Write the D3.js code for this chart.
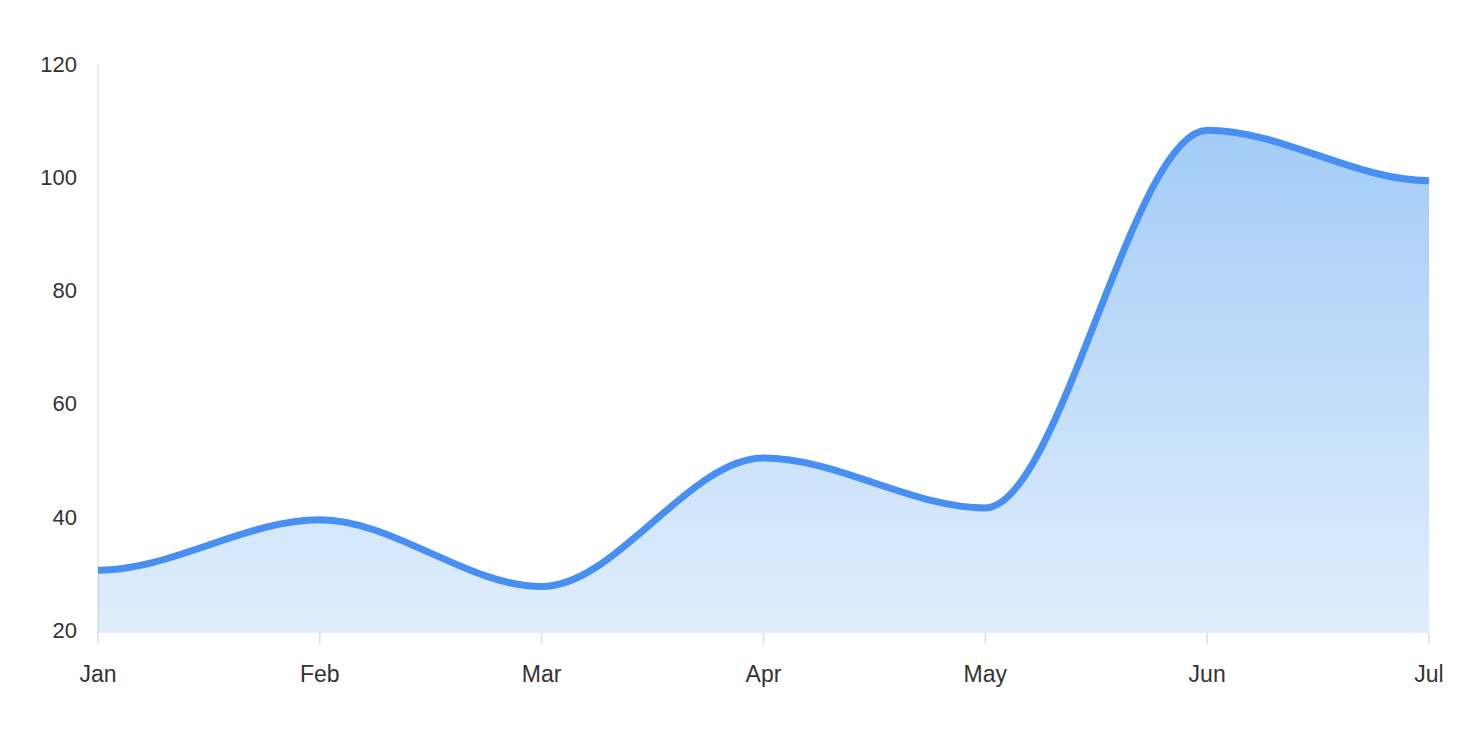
<!DOCTYPE html>
<html>
<head>
<meta charset="utf-8">
<title>Area</title>
<script src="https://d3js.org/d3.v7.min.js"></script>
<style>
  html, body { margin: 0; padding: 0; background: #fff; }
  svg { display: block; }
  text { font-family: "Liberation Sans", Arial, Helvetica, sans-serif; fill: #333; }
</style>
</head>
<body>
<svg id="chart" width="1462" height="742"></svg>
<script>
  var months = ['Jan', 'Feb', 'Mar', 'Apr', 'May', 'Jun', 'Jul'];
  var values = [30.6, 39.5, 27.7, 50.4, 41.6, 108.3, 99.4];
  var yTicks = [20, 40, 60, 80, 100, 120];

  var data = months.map(function(m, i) { return {month: m, value: values[i]}; });

  var svg = d3.select('#chart'),
      plotLeft = 98, plotRight = 1429, plotTop = 64, plotBottom = 633;

  var x = d3.scalePoint().domain(months).range([plotLeft, plotRight]);
  var y = d3.scaleLinear().domain([19.5, 120]).range([plotBottom, plotTop]);

  // monotone curve, but flat at both ends
  function FlatEnds(context) { this._context = context; }
  FlatEnds.prototype = {
    areaStart: function() { this._line = 0; },
    areaEnd: function() { this._line = NaN; },
    lineStart: function() { this._pts = []; },
    point: function(px, py) { this._pts.push([+px, +py]); },
    lineEnd: function() {
      var p = this._pts, n = p.length, c = this._context, t = [], i;
      for (i = 0; i < n; i++) {
        if (i === 0 || i === n - 1) { t[i] = 0; continue; }
        var h0 = p[i][0] - p[i-1][0], h1 = p[i+1][0] - p[i][0],
            s0 = (p[i][1] - p[i-1][1]) / h0, s1 = (p[i+1][1] - p[i][1]) / h1,
            pp = (s0 * h1 + s1 * h0) / (h0 + h1);
        t[i] = (Math.sign(s0) + Math.sign(s1)) * Math.min(Math.abs(s0), Math.abs(s1), 0.5 * Math.abs(pp)) || 0;
      }
      if (n) {
        if (this._line) c.lineTo(p[0][0], p[0][1]);
        else c.moveTo(p[0][0], p[0][1]);
      }
      for (i = 1; i < n; i++) {
        var dx = (p[i][0] - p[i-1][0]) / 3;
        c.bezierCurveTo(p[i-1][0] + dx, p[i-1][1] + dx * t[i-1],
                        p[i][0] - dx, p[i][1] - dx * t[i],
                        p[i][0], p[i][1]);
      }
      if (this._line || (this._line !== 0 && n === 1)) c.closePath();
      this._line = 1 - this._line;
    }
  };
  var flatCurve = function(ctx) { return new FlatEnds(ctx); };

  // gradient for the fill
  var grad = svg.append('defs').append('linearGradient')
      .attr('id', 'fill')
      .attr('x1', 0).attr('y1', 0).attr('x2', 0).attr('y2', 1);
  grad.append('stop').attr('offset', '0%').attr('stop-color', '#4b9bef').attr('stop-opacity', 0.51);
  grad.append('stop').attr('offset', '100%').attr('stop-color', '#4b9bef').attr('stop-opacity', 0.17);

  // y axis line
  svg.append('line')
      .attr('x1', plotLeft).attr('x2', plotLeft)
      .attr('y1', plotTop).attr('y2', plotBottom)
      .attr('stroke', '#e2e2e2')
      .attr('stroke-width', 1.5);

  // y labels
  svg.selectAll('.ylab')
      .data(yTicks)
    .enter().append('text')
      .attr('class', 'ylab')
      .attr('x', plotLeft - 21)
      .attr('y', function(d) { return y(d); })
      .attr('dy', '0.35em')
      .attr('text-anchor', 'end')
      .style('font-size', '22px')
      .text(function(d) { return d; });

  // x ticks and labels
  svg.selectAll('.xtick')
      .data(months)
    .enter().append('line')
      .attr('class', 'xtick')
      .attr('x1', function(d) { return x(d); })
      .attr('x2', function(d) { return x(d); })
      .attr('y1', plotBottom)
      .attr('y2', plotBottom + 11)
      .attr('stroke', '#dedede')
      .attr('stroke-width', 1.5);

  svg.selectAll('.xlab')
      .data(months)
    .enter().append('text')
      .attr('class', 'xlab')
      .attr('x', function(d) { return x(d); })
      .attr('y', 682)
      .attr('text-anchor', 'middle')
      .style('font-size', '23px')
      .text(function(d) { return d; });

  var area = d3.area()
      .curve(flatCurve)
      .x(function(d) { return x(d.month); })
      .y0(plotBottom)
      .y1(function(d) { return y(d.value); });

  var line = d3.line()
      .curve(flatCurve)
      .x(function(d) { return x(d.month); })
      .y(function(d) { return y(d.value); });

  svg.append('path')
      .datum(data)
      .attr('d', area)
      .attr('fill', 'url(#fill)');

  svg.append('path')
      .datum(data)
      .attr('d', line)
      .attr('fill', 'none')
      .attr('stroke', '#488ff4')
      .attr('stroke-width', 7);
</script>
</body>
</html>
